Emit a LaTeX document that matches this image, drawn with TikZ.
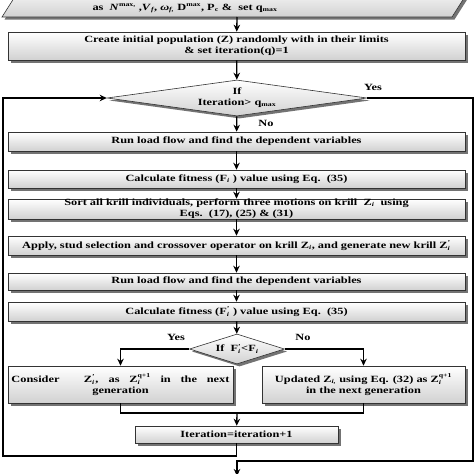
\documentclass[tikz,border=0pt]{standalone}
\usepackage{fontspec}
\setmainfont[FakeStretch=1.3]{Liberation Serif}
\usetikzlibrary{shapes.geometric,arrows.meta,shadows}
\newcommand\subsup[3]{#1$_{\hbox{\fontsize{6}{6}\selectfont\itshape #2}}^{\hbox{\fontsize{6}{6}\selectfont #3}}$}
\newcommand\smallsub[1]{$_{\hbox{\fontsize{6}{6}\selectfont #1}}$}
\newcommand\smallsup[1]{$^{\hbox{\fontsize{6}{6}\selectfont #1}}$}
\tikzset{
  box/.style={draw=black!80, line width=0.6pt, top color=white, bottom color=black!18,
    drop shadow={shadow xshift=2.5pt, shadow yshift=-2.5pt, fill=black!55, opacity=1},
    inner sep=0pt, align=center, font=\fontsize{9.5}{11}\selectfont\bfseries},
  dec/.style={box, shape=diamond, inner sep=0pt},
  arr/.style={line width=1.3pt, -{Stealth[length=7pt,width=6.5pt]}},
  lin/.style={line width=1.3pt},
  lbl/.style={font=\fontsize{9.5}{11}\selectfont\bfseries, inner sep=0pt}
}
\begin{document}
\begin{tikzpicture}[x=1pt,y=-1pt]
\useasboundingbox (0,0) rectangle (474,474);
\clip (0,0) rectangle (474,474);
% top parallelogram
\fill[black!55] (4.5,19.5) -- (454.5,19.5) -- (474.5,-12) -- (24.5,-12) -- cycle;
\draw[draw=black!80, line width=0.6pt, top color=white, bottom color=black!18] (2,17) -- (452,17) -- (472,-14.5) -- (22,-14.5) -- cycle;
\node[lbl] (t1) at (185,8) {as\ \ \textit{N}\smallsup{max,} ,\textit{V}\smallsub{\itshape f}, \textit{ω}\smallsub{\itshape f,} D\smallsup{max}, P\smallsub{c} \&\ \ set q\smallsub{max}};
\coordinate (t1b) at (237,17);

\node[box, minimum width=457pt, minimum height=28pt] (b2) at (236.5,46) {Create initial population (Z) randomly with in their limits\\\& set iteration(q)=1};
\node[dec, minimum width=260pt, minimum height=36pt, aspect=7.2] (d1) at (237,98) {If\\Iteration> q\smallsub{max}};
\node[box, minimum width=457pt, minimum height=19pt] (b3) at (236.5,141.5) {Run load flow and find the dependent variables};
\node[box, minimum width=457pt, minimum height=18pt] (b4) at (236.5,179) {Calculate fitness (F\smallsub{\itshape i} ) value using Eq.\ \ (35)};
\node[box, minimum width=457pt, minimum height=20pt] (b5) at (236.5,209) {\fontsize{9.5}{10.5}\selectfont Sort all krill individuals, perform three motions on krill\ \ Z\smallsub{\itshape i}\ \ using\\Eqs.\ \ (17), (25) \& (31)};
\node[box, minimum width=457pt, minimum height=19pt] (b6) at (236.5,245.5) {Apply, stud selection and crossover operator on krill Z\smallsub{\itshape i}, and generate new krill \subsup{Z}{i}{'}};
\node[box, minimum width=457pt, minimum height=17pt] (b7) at (236.5,281.5) {Run load flow and find the dependent variables};
\node[box, minimum width=457pt, minimum height=19pt] (b8) at (236.5,311.5) {Calculate fitness (\subsup{F}{i}{'} ) value using Eq.\ \ (35)};
\node[dec, minimum width=95pt, minimum height=30pt, aspect=3.2] (d2) at (237,349) {If\ \ \subsup{F}{i}{'}<F\smallsub{\itshape i}};
\node[box, minimum width=225pt, minimum height=37pt] (bl) at (120.5,384.5) {\makebox[218pt][s]{Consider \ \ \ \ \subsup{Z}{i}{'}, \ as \ \subsup{Z}{i}{q+1} \ in \ the \ next}\\generation};
\node[box, minimum width=203pt, minimum height=37pt] (br) at (363.5,384.5) {Updated Z\smallsub{\itshape i,} using Eq. (32) as \subsup{Z}{i}{q+1}\\in the next generation};
\node[box, minimum width=203pt, minimum height=17pt] (b9) at (236.5,434.5) {Iteration=iteration+1};

\node[lbl] (yes1) at (373,87) {Yes};
\node[lbl] (no1) at (266,123) {No};
\node[lbl] (yes2) at (176,337) {Yes};
\node[lbl] (no2) at (303,337) {No};

\coordinate (bl1) at (3,456);
\coordinate (bl2) at (3,98);
\coordinate (br1) at (473,98);
\coordinate (br2) at (473,461);
\coordinate (br3) at (237,461);
\coordinate (end) at (237,476);
\coordinate (m1) at (237,413);

\draw[arr] (t1b) -- (b2);
\draw[arr] (b2) -- (d1);
\draw[arr] (d1) -- (b3);
\draw[arr] (b3) -- (b4);
\draw[arr] (b4) -- (b5);
\draw[arr] (b5) -- (b6);
\draw[arr] (b6) -- (b7);
\draw[arr] (b7) -- (b8);
\draw[arr] (b8) -- (d2);
\draw[arr] (d2.west) -| (bl.north);
\draw[arr] (d2.east) -| (br.north);
\draw[lin] (bl.south) |- (m1) -| (br.south);
\draw[arr] (m1) -- (b9);
\draw[arr] (b9.south) |- (bl1) -- (bl2) -- (d1.west);
\draw[arr] (d1.east) -- (br1) -- (br2) -- (br3) -- (end);
\end{tikzpicture}
\end{document}
